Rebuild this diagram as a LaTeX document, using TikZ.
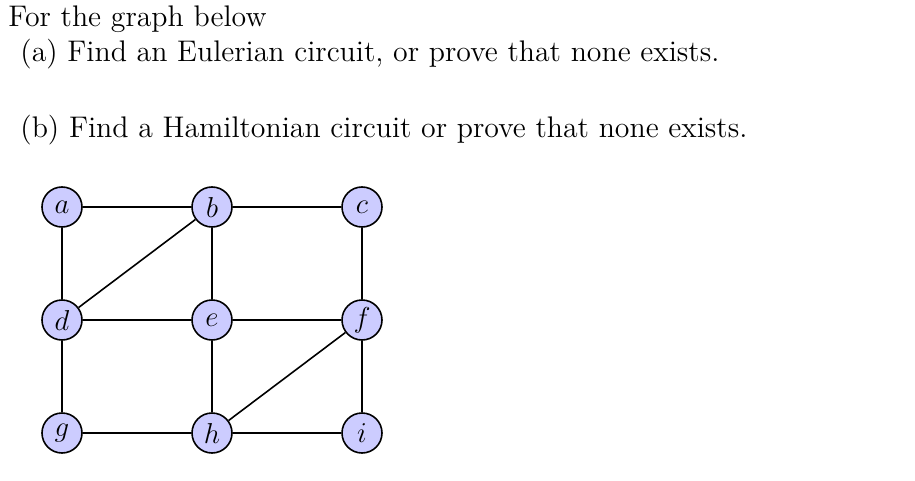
\documentclass[tikz,border=0pt]{standalone}
\begin{document}
\begin{tikzpicture}[x=0.5pt,y=-0.5pt,
  vtx/.style={circle,draw,thick,fill=blue!20,minimum size=20pt,inner sep=0pt,font=\fontsize{14.5}{17}\selectfont},
  txt/.style={anchor=base west,inner sep=0pt,font=\fontsize{14.9}{17}\selectfont},
  edge/.style={thick}]
\useasboundingbox (0,0) rectangle (915,481);
\node[txt] (t0) at (8,27) {For the graph below};
\node[txt] (t1) at (20,62) {(a) Find an Eulerian circuit, or prove that none exists.};
\node[txt] (t2) at (20,138) {(b) Find a Hamiltonian circuit or prove that none exists.};
\node[vtx] (a) at (62,207) {$a$};
\node[vtx] (b) at (212,207) {$b$};
\node[vtx] (c) at (362,207) {$c$};
\node[vtx] (d) at (62,320) {$d$};
\node[vtx] (e) at (212,320) {$e$};
\node[vtx] (f) at (362,320) {$f$};
\node[vtx] (g) at (62,433) {$g$};
\node[vtx] (h) at (212,433) {$h$};
\node[vtx] (i) at (362,433) {$i$};
\draw[edge] (a)--(b) (b)--(c) (a)--(d) (b)--(d) (b)--(e) (c)--(f)
  (d)--(e) (e)--(f) (d)--(g) (e)--(h) (h)--(f) (f)--(i) (g)--(h) (h)--(i);
\end{tikzpicture}
\end{document}
